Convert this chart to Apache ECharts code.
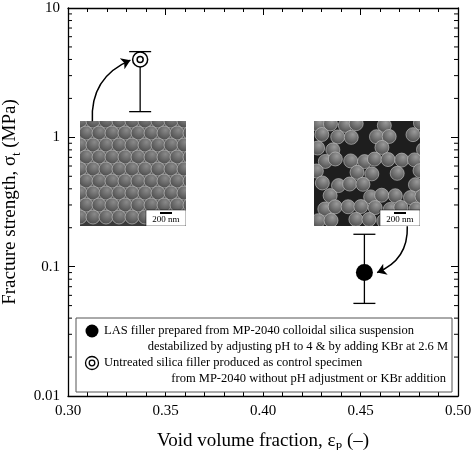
<!DOCTYPE html>
<html><head><meta charset="utf-8">
<script src="https://cdn.jsdelivr.net/npm/echarts@6/dist/echarts.min.js"></script>
<style>html,body{margin:0;background:#fff}#c{width:474px;height:450px}</style>
</head><body><div id="c"></div>
<script>
// data
var lasPoint = [0.452, 0.090];
var lasErr = [0.052, 0.178];
var ctrlPoint = [0.337, 4.0];
var ctrlErr = [1.58, 4.6];
var legendTexts = [
	'LAS filler prepared from MP-2040 colloidal silica suspension',
	'destabilized by adjusting pH to 4 & by adding KBr at 2.6 M',
	'Untreated silica filler produced as control specimen',
	'from MP-2040 without pH adjustment or KBr addition'
];
// log minor tick values (2..9 of each decade)
var minorLogTicks = [];
[0.01, 0.1, 1].forEach(function (d) { for (var k = 2; k <= 9; k++) minorLogTicks.push(+(d * k).toPrecision(2)); });

var chart = echarts.init(document.getElementById('c'));
var font = 'Liberation Serif';

function errBar(params, api) {
	var x = api.value(0);
	var lo = api.coord([x, api.value(1)]);
	var hi = api.coord([x, api.value(2)]);
	var w = 11;
	var st = {stroke: '#000', lineWidth: 1.3};
	return {type: 'group', children: [
		{type: 'line', shape: {x1: lo[0], y1: lo[1], x2: hi[0], y2: hi[1]}, style: st},
		{type: 'line', shape: {x1: lo[0]-w, y1: lo[1], x2: lo[0]+w, y2: lo[1]}, style: st},
		{type: 'line', shape: {x1: hi[0]-w, y1: hi[1], x2: hi[0]+w, y2: hi[1]}, style: st}
	]};
}

// minor ticks on the left and right log axes
function minorTicks(params, api) {
	var p = api.coord([0.30, api.value(0)]);
	var q = api.coord([0.50, api.value(0)]);
	var st = {stroke: '#000', lineWidth: 1};
	return {type: 'group', children: [
		{type: 'line', shape: {x1: p[0], y1: p[1], x2: p[0] + 4, y2: p[1]}, style: st},
		{type: 'line', shape: {x1: q[0], y1: q[1], x2: q[0] - 4, y2: q[1]}, style: st}
	]};
}

// decorative SEM-like image panels
function semPanel(x0, y0, dark, seed) {
	var kids = [{type: 'rect', shape: {x: 0, y: 0, width: 106, height: 105}, style: {fill: dark ? '#1e1e1e' : '#3a3a3a'}}];
	var r = 7, s = seed;
	for (var row = 0; row < 9; row++) {
		for (var col = 0; col < 9; col++) {
			s = (s * 9301 + 49297) % 233280;
			var j = s / 233280;
			if (dark && j < 0.3) continue;
			var cx = col * 13 + (row % 2 ? 6 : 0) + (dark ? j * 6 : 0);
			var cy = row * 12 + (dark ? j * 5 : 0);
			kids.push({type: 'circle', shape: {cx: cx, cy: cy, r: r},
				style: {fill: new echarts.graphic.RadialGradient(0.6, 0.3, 0.8, [{offset: 0, color: dark ? '#9a9a9a' : '#8a8a8a'}, {offset: 1, color: '#444'}]), stroke: '#ccc', lineWidth: 0.6}});
		}
	}
	kids.push({type: 'rect', shape: {x: 66, y: 89, width: 40, height: 16}, style: {fill: '#fff', stroke: '#000', lineWidth: 0.5}});
	kids.push({type: 'rect', shape: {x: 80, y: 91, width: 12, height: 2}, style: {fill: '#000'}});
	kids.push({type: 'text', x: 86, y: 99, style: {text: '200 nm', font: '9px ' + font, fill: '#000', align: 'center', verticalAlign: 'middle'}});
	return {type: 'group', x: x0, y: y0, silent: true,
		clipPath: {type: 'rect', shape: {x: 0, y: 0, width: 106, height: 105}}, children: kids};
}

var axisCommon = {
	axisLine: {show: true, onZero: false, lineStyle: {color: '#000', width: 1.3}},
	axisTick: {show: true, inside: true, length: 7, lineStyle: {color: '#000'}},
	splitLine: {show: false}
};
var xMinor = {show: true, splitNumber: 5, length: 4, lineStyle: {color: '#000'}};
var subRich = {s: {fontFamily: font, fontSize: 12, verticalAlign: 'bottom', padding: [14, 0, 0, 0]}};

var option = {
	animation: false,
	grid: {left: 68, right: 16, top: 8, bottom: 54, containLabel: false, outerBoundsMode: 'none'},
	xAxis: [
		Object.assign({type: 'value', min: 0.30, max: 0.50, interval: 0.05,
			name: 'Void volume fraction, \u03b5{s|P} (\u2013)', nameLocation: 'middle', nameGap: 32,
			nameTextStyle: {fontFamily: font, fontSize: 19, color: '#000', rich: subRich},
			axisLabel: {fontFamily: font, fontSize: 15, color: '#000', margin: 8,
				formatter: function (v) { return v.toFixed(2); }},
			minorTick: xMinor
		}, axisCommon),
		Object.assign({type: 'value', position: 'top', min: 0.30, max: 0.50, interval: 0.05, axisLabel: {show: false}, minorTick: xMinor}, axisCommon)
	],
	yAxis: [
		Object.assign({type: 'log', logBase: 10, min: 0.01, max: 10,
			name: 'Fracture strength, \u03c3{s|t} (MPa)', nameLocation: 'middle', nameGap: 40,
			nameTextStyle: {fontFamily: font, fontSize: 19, color: '#000', rich: subRich},
			axisLabel: {fontFamily: font, fontSize: 15, color: '#000', margin: 8,
				formatter: function (v) { return v >= 1 ? String(Math.round(v)) : String(+v.toPrecision(1)); }}
		}, axisCommon),
		Object.assign({type: 'log', logBase: 10, min: 0.01, max: 10, position: 'right', axisLabel: {show: false}}, axisCommon)
	],
	series: [
		{type: 'custom', renderItem: minorTicks, data: minorLogTicks.map(function (v) { return [v]; }), encode: {y: 0}, silent: true, z: 1},
		{type: 'custom', renderItem: errBar, data: [[lasPoint[0]].concat(lasErr), [ctrlPoint[0]].concat(ctrlErr)], z: 2},
		{type: 'scatter', data: [lasPoint], symbol: 'circle', symbolSize: 17, itemStyle: {color: '#000', opacity: 1}, z: 4},
		{type: 'scatter', data: [ctrlPoint], symbol: 'circle', symbolSize: 15, itemStyle: {color: '#fff', borderColor: '#000', borderWidth: 1.5, opacity: 1}, z: 4},
		{type: 'scatter', data: [ctrlPoint], symbol: 'circle', symbolSize: 6, itemStyle: {color: '#fff', borderColor: '#000', borderWidth: 1.5, opacity: 1}, z: 5},
		{type: 'lines', coordinateSystem: 'cartesian2d', symbol: ['none', 'arrow'], symbolSize: 9,
			lineStyle: {color: '#000', width: 1.5, opacity: 1}, z: 3,
			data: [
				{coords: [[0.3125, 1.33], [0.332, 3.95]], lineStyle: {curveness: 0.35}},
				{coords: [[0.474, 0.205], [0.4585, 0.09]], lineStyle: {curveness: 0.35}}
			]}
	],
	graphic: [
		semPanel(80, 121, false, 7),
		semPanel(314, 121, true, 13),
		{type: 'rect', shape: {x: 76, y: 318, width: 376, height: 74}, style: {fill: '#fff', stroke: '#555', lineWidth: 1}, z: 10},
		{type: 'circle', shape: {cx: 92, cy: 331, r: 6.5}, style: {fill: '#000'}, z: 11},
		{type: 'circle', shape: {cx: 92, cy: 363, r: 6.5}, style: {fill: '#fff', stroke: '#000', lineWidth: 1.3}, z: 11},
		{type: 'circle', shape: {cx: 92, cy: 363, r: 2.8}, style: {fill: '#fff', stroke: '#000', lineWidth: 1.3}, z: 11},
		{type: 'text', x: 104, y: 331, z: 11, style: {text: legendTexts[0], font: '12.5px ' + font, fill: '#000', verticalAlign: 'middle'}},
		{type: 'text', x: 448, y: 347, z: 11, style: {text: legendTexts[1], font: '12.5px ' + font, fill: '#000', align: 'right', verticalAlign: 'middle'}},
		{type: 'text', x: 104, y: 363, z: 11, style: {text: legendTexts[2], font: '12.5px ' + font, fill: '#000', verticalAlign: 'middle'}},
		{type: 'text', x: 446, y: 379, z: 11, style: {text: legendTexts[3], font: '12.5px ' + font, fill: '#000', align: 'right', verticalAlign: 'middle'}}
	]
};
chart.setOption(option);
</script>
</body></html>
